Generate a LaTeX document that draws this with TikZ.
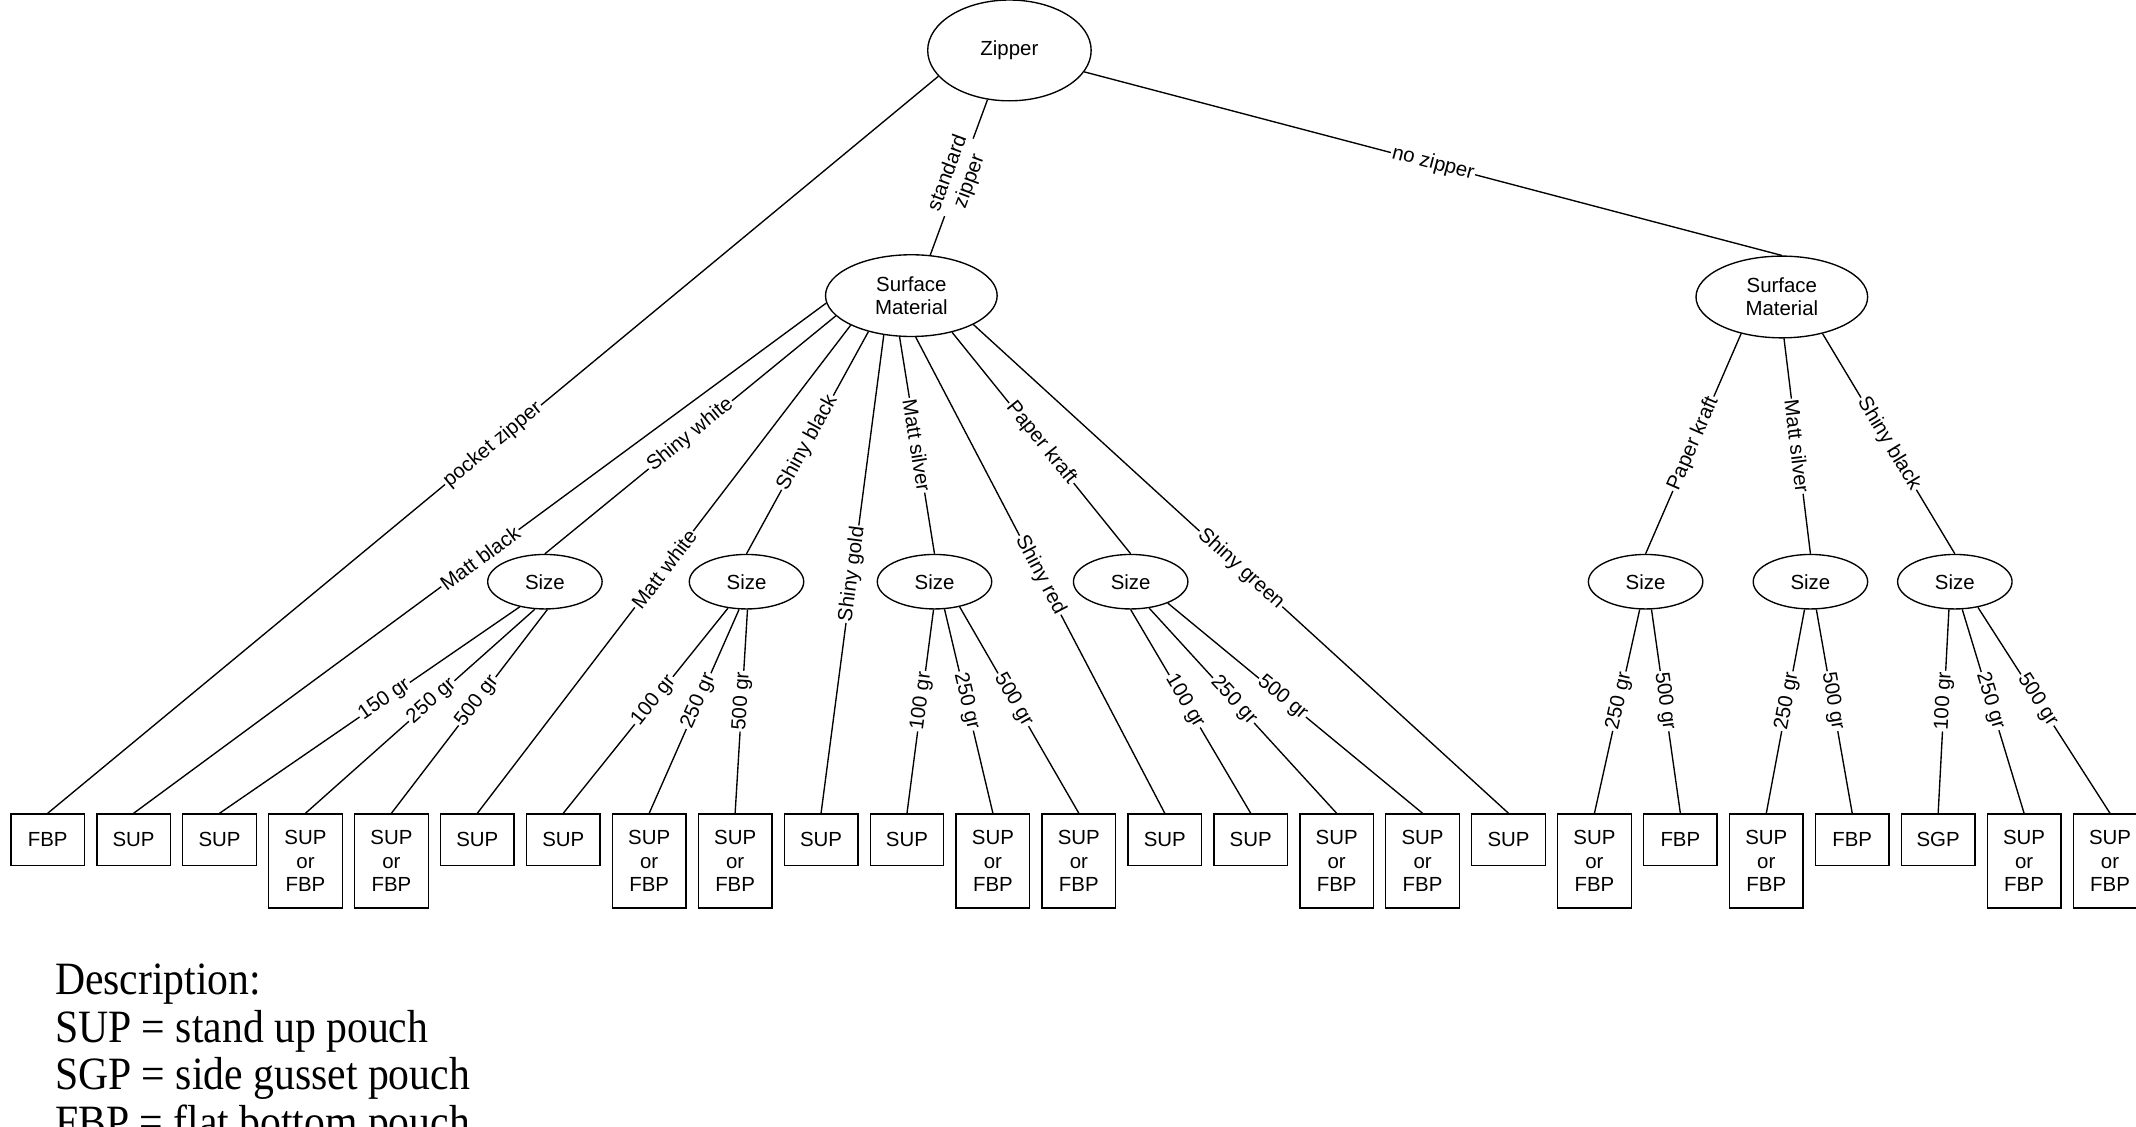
\documentclass[tikz,border=0pt]{standalone}
\usepackage{fontspec}
\setmainfont{Liberation Sans}
\newfontfamily\legfont{Liberation Serif}
\usetikzlibrary{shapes.geometric}
\begin{document}
\begin{tikzpicture}[x=0.5pt,y=-0.5pt,
  every node/.style={font=\fontsize{7.5}{8.5}\selectfont},
  ell/.style={draw,ellipse,inner sep=0pt},
  zip/.style={ell,minimum width=60pt,minimum height=37pt},
  sm/.style={ell,minimum width=63pt,minimum height=30pt,align=center},
  sz/.style={ell,minimum width=42pt,minimum height=20pt},
  leaf/.style={draw,rectangle,anchor=north,minimum width=27pt,minimum height=19pt,align=center,inner sep=1pt},
  tall/.style={leaf,minimum height=34.5pt},
  lab/.style={sloped,fill=white,inner sep=0.5pt,pos=0.5},
  slab/.style={sloped,fill=white,inner sep=0.5pt,pos=0.45},
  line width=0.5pt]
\useasboundingbox (0,0) rectangle (1568,827);
\clip (0,0) rectangle (1568,827);
\fill[white] (0,0) rectangle (1568,827);
\node[zip] (z) at (741,37) {Zipper};
\node[sm] (m1) at (669,217) {Surface\\Material};
\node[sm] (m2) at (1308,218) {Surface\\Material};
\node[sz] (s1) at (400,427) {Size};
\node[sz] (s2) at (548,427) {Size};
\node[sz] (s3) at (686,427) {Size};
\node[sz] (s4) at (830,427) {Size};
\node[sz] (s5) at (1208,427) {Size};
\node[sz] (s6) at (1329,427) {Size};
\node[sz] (s7) at (1435,427) {Size};
\foreach \i/\t/\k in {1/FBP/leaf,2/SUP/leaf,3/SUP/leaf,4/SUP\\or\\FBP/tall,5/SUP\\or\\FBP/tall,
  6/SUP/leaf,7/SUP/leaf,8/SUP\\or\\FBP/tall,9/SUP\\or\\FBP/tall,10/SUP/leaf,11/SUP/leaf,
  12/SUP\\or\\FBP/tall,13/SUP\\or\\FBP/tall,14/SUP/leaf,15/SUP/leaf,16/SUP\\or\\FBP/tall,
  17/SUP\\or\\FBP/tall,18/SUP/leaf,19/SUP\\or\\FBP/tall,20/FBP/leaf,21/SUP\\or\\FBP/tall,
  22/FBP/leaf,23/SGP/leaf,24/SUP\\or\\FBP/tall,25/SUP\\or\\FBP/tall}
  {\node[\k] (l\i) at ({35+(\i-1)*63.08},597) {\t};}
\draw (z.200) -- node[lab] {pocket zipper} (l1.north);
\draw (z.246) -- node[lab,align=center] {standard\\zipper} (m1.65);
\draw (z.344) -- node[lab] {no zipper} (m2.north);
\draw (m1.185) -- node[lab] {Matt black} (l2.north);
\draw (m1.195) -- node[lab] {Shiny white} (s1.north);
\draw (m1.206) -- node[lab] {Matt white} (l6.north);
\draw (m1.220) -- node[lab] {Shiny black} (s2.north);
\draw (m1.235) -- node[lab] {Shiny gold} (l10.north);
\draw (m1.254) -- node[lab] {Matt silver} (s3.north);
\draw (m1.276) -- node[lab] {Shiny red} (l14.north);
\draw (m1.318) -- node[lab] {Paper kraft} (s4.north);
\draw (m1.335) -- node[lab] {Shiny green} (l18.north);
\draw (m2.222) -- node[lab] {Paper kraft} (s5.north);
\draw (m2.273) -- node[lab] {Matt silver} (s6.north);
\draw (m2.318) -- node[lab] {Shiny black} (s7.north);
\draw (s1.225) -- node[slab] {150 gr} (l3.north);
\draw (s1.250) -- node[slab] {250 gr} (l4.north);
\draw (s1.275) -- node[slab] {500 gr} (l5.north);
\draw (s2.235) -- node[slab] {100 gr} (l7.north);
\draw (s2.255) -- node[slab] {250 gr} (l8.north);
\draw (s2.272) -- node[slab] {500 gr} (l9.north);
\draw (s3.268) -- node[slab] {100 gr} (l11.north);
\draw (s3.290) -- node[slab] {250 gr} (l12.north);
\draw (s3.315) -- node[slab] {500 gr} (l13.north);
\draw (s4.270) -- node[slab] {100 gr} (l15.north);
\draw (s4.305) -- node[slab] {250 gr} (l16.north);
\draw (s4.330) -- node[slab] {500 gr} (l17.north);
\draw (s5.258) -- node[slab] {250 gr} (l19.north);
\draw (s5.282) -- node[slab] {500 gr} (l20.north);
\draw (s6.258) -- node[slab] {250 gr} (l21.north);
\draw (s6.282) -- node[slab] {500 gr} (l22.north);
\draw (s7.258) -- node[slab] {100 gr} (l23.north);
\draw (s7.285) -- node[slab] {250 gr} (l24.north);
\draw (s7.312) -- node[slab] {500 gr} (l25.north);
\begin{scope}[every node/.style={anchor=base west,inner sep=0pt,xscale=0.9,font=\legfont\fontsize{17}{19}\selectfont}]
\node (d0) at (40,730) {Description:};
\node (d1) at (40,765) {SUP = stand up pouch};
\node (d2) at (40,800) {SGP = side gusset pouch};
\node (d3) at (40,835) {FBP = flat bottom pouch};
\end{scope}
\end{tikzpicture}
\end{document}
